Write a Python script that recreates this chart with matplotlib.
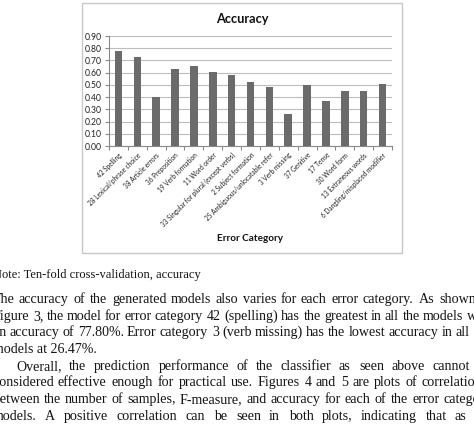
import matplotlib
matplotlib.use("Agg")
import matplotlib.pyplot as plt
from matplotlib.patches import Rectangle
from matplotlib.font_manager import FontProperties
import numpy as np

# ---------------- data ----------------
categories = ["42 Spelling", "28 Lexical/phrase choice", "38 Article errors",
              "36 Preposition", "19 Verb formation", "11 Word order",
              "33 Singular for plural (except verbs)", "2 Subject formation",
              "25 Ambiguous/unlocatable refer", "3 Verb missing", "37 Genitive",
              "17 Tense", "30 Word form", "13 Extraneous words",
              "6 Dangling/misplaced modifier"]
accuracy = [0.778, 0.725, 0.400, 0.630, 0.655, 0.603, 0.581, 0.524, 0.485,
            0.2647, 0.496, 0.365, 0.450, 0.453, 0.507]
yticks = [0.0, 0.1, 0.2, 0.3, 0.4, 0.5, 0.6, 0.7, 0.8, 0.9]
chart_title = "Accuracy"
x_label = "Error Category"

note_text = "Note: Ten-fold cross-validation, accuracy"
para_lines = [
    "The accuracy of the generated models also varies for each error category. As shown in",
    "Figure 3, the model for error category 42 (spelling) has the greatest in all the models with",
    "an accuracy of 77.80%. Error category 3 (verb missing) has the lowest accuracy in all the",
    "models at 26.47%.",
    "Overall, the prediction performance of the classifier as seen above cannot be",
    "considered effective enough for practical use. Figures 4 and 5 are plots of correlation",
    "between the number of samples, F-measure, and accuracy for each of the error category",
    "models. A positive correlation can be seen in both plots, indicating that as the",
]

# ---------------- layout (pixels) ----------------
W, H = 474, 424
DPI = 100
fig = plt.figure(figsize=(W / DPI, H / DPI), dpi=DPI, facecolor="white")

def fx(px):
    return px / W

def fy(py):
    return 1 - py / H

# chart frame
frame = Rectangle((fx(82), fy(253)), fx(402) - fx(82), fy(3) - fy(253),
                  transform=fig.transFigure, facecolor="none",
                  edgecolor="#c8c8c8", linewidth=1.0, zorder=-5)
fig.add_artist(frame)

ax_l, ax_r, ax_t, ax_b = 109, 392, 36, 146
ax = fig.add_axes([fx(ax_l), fy(ax_b), fx(ax_r) - fx(ax_l), fy(ax_t) - fy(ax_b)])
ax.set_facecolor("none")
ax.set_zorder(2)

sans = "Lato"
x = np.arange(len(categories))
ax.bar(x, accuracy, width=0.40, color="#6b6b6b", zorder=3)
ax.set_xlim(-0.5, len(categories) - 0.5)
ax.set_ylim(0, 0.9)
ax.set_yticks(yticks)
ax.set_yticklabels([f"{v:.2f}" for v in yticks], fontsize=6.2, family=sans,
                   color="#222222")
ax.yaxis.grid(True, color="#bdbdbd", linewidth=0.8, zorder=0)
ax.set_axisbelow(True)
for s in ["top", "right"]:
    ax.spines[s].set_visible(False)
ax.spines["left"].set_color("#8a8a8a")
ax.spines["bottom"].set_color("#8a8a8a")
ax.spines["left"].set_linewidth(0.8)
ax.spines["bottom"].set_linewidth(0.8)
ax.tick_params(axis="y", length=3, width=0.8, color="#8a8a8a", pad=2)

# category tick marks at boundaries, labels at centres
ax.set_xticks(np.arange(-0.5, len(categories), 1.0), minor=False)
ax.set_xticklabels([])
ax.tick_params(axis="x", which="major", length=3, width=0.8, color="#8a8a8a")
ax.set_xticks(x, minor=True)
ax.set_xticklabels(categories, minor=True, rotation=45, ha="right", va="top",
                   rotation_mode="anchor", fontsize=4.7, family=sans,
                   color="#222222")
ax.tick_params(axis="x", which="minor", length=0, pad=4)

fig.text(fx(242), fy(19), chart_title, ha="center", va="center",
         fontsize=9.2, fontweight="bold", family=sans, color="#111111")
fig.text(fx(250), fy(239), x_label, ha="center", va="center",
         fontsize=7.2, fontweight="bold", family=sans, color="#111111")

# ---------------- page text ----------------
tax = fig.add_axes([0, 0, 1, 1])
tax.set_xlim(0, W)
tax.set_ylim(H, 0)
tax.axis("off")
tax.set_zorder(1)

serif = "Liberation Serif"
body_pt = 10.1
note_pt = 9.0
fig.canvas.draw()
renderer = fig.canvas.get_renderer()

def width_px(s, pt):
    prop = FontProperties(family=serif, size=pt)
    w, h, d = renderer.get_text_width_height_descent(s, prop, ismath=False)
    return w

text_color = "#141414"
left = -7
tax.text(left, 278, note_text, fontsize=note_pt, family=serif, color=text_color,
         ha="left", va="baseline", clip_on=False)

base0 = 303.0
step = 16.7
# (indent, right edge or None for ragged)
line_layout = [(0, 491), (0, 492), (0, 491), (0, None),
               (23, 491), (0, 483), (0, 492), (0, 493)]
for i, (line, (indent, right)) in enumerate(zip(para_lines, line_layout)):
    yb = float(round(base0 + i * step))
    words = line.split(" ")
    xs = left + indent
    if right is None or len(words) == 1:
        tax.text(xs, yb, line, fontsize=body_pt, family=serif, color=text_color,
                 ha="left", va="baseline", clip_on=False)
        continue
    ws = [width_px(w, body_pt) for w in words]
    gap = (right - xs - sum(ws)) / (len(words) - 1)
    cx = xs
    for w, wd in zip(words, ws):
        tax.text(round(cx), yb, w, fontsize=body_pt, family=serif,
                 color=text_color, ha="left", va="baseline", clip_on=False)
        cx += wd + gap

fig.savefig("out.png", dpi=DPI, facecolor="white")
